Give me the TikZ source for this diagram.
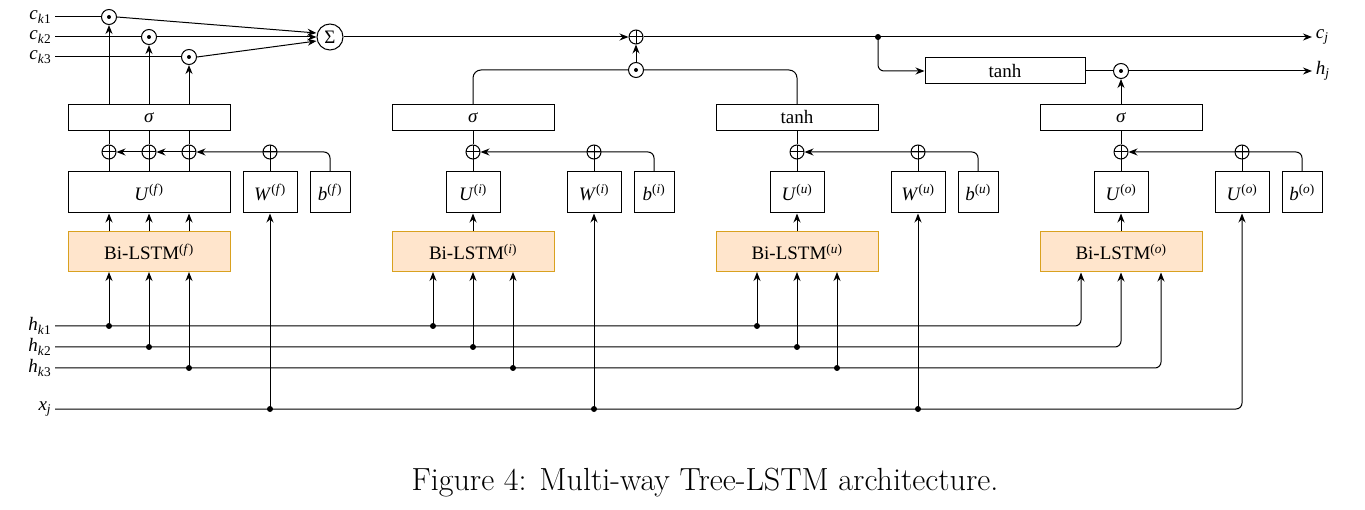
\documentclass[tikz,border=0pt]{standalone}
\usepackage{fontspec}
\newfontfamily\dg{Liberation Serif}
\usetikzlibrary{arrows.meta,calc}
\definecolor{lstmline}{rgb}{0.85,0.63,0.12}
\definecolor{lstmfill}{rgb}{1.0,0.9,0.8}
\newcommand\lsub[2]{\textit{#1}\textsubscript{#2}}
\newcommand\lsup[2]{\textit{#1}\textsuperscript{(\textit{#2})}}
\begin{document}
\begin{tikzpicture}[x=1pt,y=-1pt,line width=1.0pt,
  >={Stealth[length=9pt,width=7pt]},
  every node/.style={font=\dg\fontsize{19}{22}\selectfont},
  box/.style={draw,minimum height=26pt,inner sep=0pt},
  wide/.style={box,minimum width=162pt},
  small/.style={box,minimum width=54pt,minimum height=41pt},
  bbox/.style={box,minimum width=40pt,minimum height=41pt},
  lstm/.style={box,minimum width=162pt,minimum height=40pt,draw=lstmline,fill=lstmfill},
  opl/.style={draw,circle,minimum size=14pt,inner sep=0pt,
    path picture={\draw (path picture bounding box.north)--(path picture bounding box.south)
      (path picture bounding box.west)--(path picture bounding box.east);}},
  odt/.style={draw,circle,minimum size=15pt,inner sep=0pt,fill=white,
    path picture={\fill[black] (path picture bounding box.center) circle (2pt);}},
  dot/.style={circle,fill,inner sep=0pt,minimum size=6pt}]
\useasboundingbox (0,0) rectangle (1365,510);

% inputs on the left
\node[anchor=east] (ck1) at (55,17) {\lsub{c}{\textit{k}1}};
\node[anchor=east] (ck2) at (55,37) {\lsub{c}{\textit{k}2}};
\node[anchor=east] (ck3) at (55,57) {\lsub{c}{\textit{k}3}};
\node[anchor=east] (hk1) at (55,326) {\lsub{h}{\textit{k}1}};
\node[anchor=east] (hk2) at (55,347) {\lsub{h}{\textit{k}2}};
\node[anchor=east] (hk3) at (55,368) {\lsub{h}{\textit{k}3}};
\node[anchor=east] (xj) at (55,409) {\lsub{x}{\textit{j}}};

% four gate blocks
\foreach \k/\g/\act in {0/f/\textit{σ},1/i/\textit{σ},2/u/tanh,3/o/\textit{σ}}{
  \pgfmathsetmacro\c{149+324*\k}
  \node[wide] (act\g) at (\c,117.5) {\act};
  \node[lstm] (L\g) at (\c,252) {Bi-LSTM\textsuperscript{(\textit{\g})}};
  \node[small] (W\g) at (\c+121,192.5) {\lsup{\ifnum\k=3 U\else W\fi}{\g}};
  \node[bbox] (b\g) at (\c+181,192.5) {\lsup{b}{\g}};
  \node[opl] (pw\g) at (\c+121,152) {};
  \draw (W\g.north) -- (pw\g.south);
}

% forget gate: three lanes
\node[wide,minimum height=41pt] (Uf) at (149,192.5) {\lsup{U}{f}};
\foreach \n/\x in {1/109,2/149,3/189}{
  \node[opl] (pf\n) at (\x,152) {};
  \draw (Uf.north -| pf\n) -- (pf\n.south);
  \draw (pf\n.north) -- (actf.south -| pf\n);
  \draw[->] (Lf.north -| pf\n) -- (Uf.south -| pf\n);
}
\draw[->,rounded corners=6pt] (bf.north) |- (pf3.east);
\draw[->] (pf3.west) -- (pf2.east);
\draw[->] (pf2.west) -- (pf1.east);

% other gates: one lane
\foreach \k/\g in {1/i,2/u,3/o}{
  \pgfmathsetmacro\c{149+324*\k}
  \node[small] (U\g) at (\c,192.5) {\lsup{U}{\g}};
  \node[opl] (p\g) at (\c,152) {};
  \draw (U\g.north) -- (p\g.south);
  \draw (p\g.north) -- (act\g.south);
  \draw[->] (L\g.north) -- (U\g.south);
  \draw[->,rounded corners=6pt] (b\g.north) |- (p\g.east);
}

% hidden state inputs
\foreach \h/\d/\y in {hk1/-40/326,hk2/0/347,hk3/40/368}{
  \foreach \k/\g in {0/f,1/i,2/u}{
    \pgfmathsetmacro\xx{149+324*\k+\d}
    \node[dot] (d\h\g) at (\xx,\y) {};
    \draw[->] (d\h\g.center) -- (\xx,272);
  }
  \draw[->,rounded corners=6pt] (\h.east) -| ($(Lo.south)+(\d,0)$);
}
\foreach \g in {f,i,u}{
  \node[dot] (dx\g) at (W\g.south |- xj) {};
  \draw[->] (dx\g.center) -- (W\g.south);
}
\draw[->,rounded corners=6pt] (xj.east) -| (Wo.south);

% forget products and sum
\node[odt] (o1) at (109,17) {};
\node[odt] (o2) at (149,37) {};
\node[odt] (o3) at (189,57) {};
\node[draw,circle,minimum size=26pt,inner sep=0pt] (S) at (330,37) {Σ};
\foreach \n in {1,2,3}{
  \draw (ck\n.east) -- (o\n.west);
  \draw[->] (actf.north -| o\n) -- (o\n.south);
}
\draw[->] (o1.east) -- ($(S.west)+(0,-4)$);
\draw[->] (o2.east) -- (S.west);
\draw[->] (o3.east) -- ($(S.west)+(0,4)$);

% cell update
\node[opl] (A) at (636,37) {};
\node[odt] (B) at (636,70) {};
\draw[->] (S.east) -- (A.west);
\draw[rounded corners=8pt] (acti.north) |- (B.west);
\draw[rounded corners=8pt] (actu.north) |- (B.east);
\draw[->] (B.north) -- (A.south);
\node[anchor=west] (cj) at (1312,37) {\lsub{c}{\textit{j}}};
\draw[->] (A.east) -- (cj.west);
\node[dot] (D) at (878,37) {};
\node[box,minimum width=160pt] (T) at (1005,71) {tanh};
\draw[->,rounded corners=6pt] (D.center) |- (T.west);
\node[odt] (E) at (1121,71) {};
\node[anchor=west] (hj) at (1312,71) {\lsub{h}{\textit{j}}};
\draw (T.east) -- (E.west);
\draw[->] (E.east) -- (hj.west);
\draw[->] (acto.north) -- (E.south);

% caption
\node[font=\rmfamily\fontsize{32}{36}\selectfont] (cap) at (705,483)
  {Figure 4: Multi-way Tree-LSTM architecture.};
\end{tikzpicture}
\end{document}
